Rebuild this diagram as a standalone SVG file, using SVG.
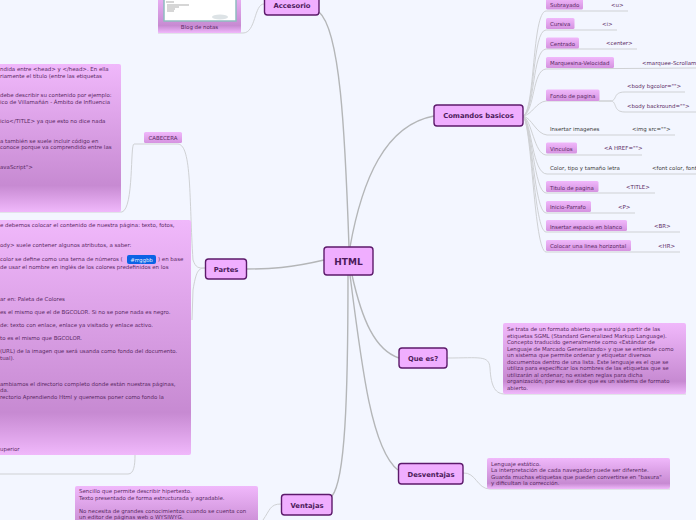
<svg xmlns="http://www.w3.org/2000/svg" width="696" height="520" viewBox="0 0 696 520">
<style>
text{font-family:"DejaVu Sans",sans-serif;font-size:5.450px;fill:#5a2a64}
.n{fill:#f0aeff;stroke:#5c1a6b;stroke-width:1.4}
.nt{font-weight:bold;font-size:6.800px;fill:#4c1a5a;text-anchor:middle}
.p{fill:url(#pill)}
.b{fill:url(#box)}
.c{fill:none;stroke:#cfd1d4;stroke-width:1}
.m{fill:none;stroke:#b4b6b8;stroke-width:1.4}
.k{fill:#3c3c3c}
</style>
<defs>
<linearGradient id="box" x1="0" y1="0" x2="0" y2="1"><stop offset="0" stop-color="#f0b8fb"/><stop offset=".82" stop-color="#c78ad2"/><stop offset="1" stop-color="#f0b8fb"/></linearGradient>
<linearGradient id="pill" x1="0" y1="0" x2="0" y2="1"><stop offset="0" stop-color="#f0b8fb"/><stop offset="1" stop-color="#d592e0"/></linearGradient>
</defs>
<rect width="696" height="520" fill="#f3f6ff"/>
<g id="connectors">
<path class="m" d="M324 260C290 268 270 269 247 269"/>
<path class="m" d="M349 247C345 130 340 30 319 12"/>
<path class="m" d="M350 247C362 180 385 125 434 116"/>
<path class="m" d="M352 275C362 320 375 350 399 358"/>
<path class="m" d="M350 275C362 370 372 450 398 470"/>
<path class="m" d="M348 275C348 400 345 480 332 496"/>
<path class="c" d="M523 116C535 112 532 12 546 11L628 11"/>
<path class="c" d="M523 116C535 112 532 30 546 30L617 30"/>
<path class="c" d="M523 116C535 112 532 50 546 49L637 49"/>
<path class="c" d="M523 116C535 112 532 70 546 69L696 68"/>
<path class="c" d="M523 116C532 115 536 102 546 101L610 101"/>
<path class="c" d="M599 101L610 101C618 101 612 92 625 92L685 92M610 101C618 101 612 112 625 112L696 112"/>
<path class="c" d="M523 116C532 118 536 134 547 135L675 135"/>
<path class="c" d="M523 116C532 120 534 154 546 155L642 155"/>
<path class="c" d="M523 116C532 122 532 174 547 174L696 174"/>
<path class="c" d="M523 116C532 125 534 192 546 193L655 193"/>
<path class="c" d="M523 116C532 125 534 212 546 213L635 213"/>
<path class="c" d="M523 116C532 125 534 231 546 232L627 232L680 232"/>
<path class="c" d="M523 116C532 125 534 251 546 252L680 252"/>
<path class="c" d="M264 4C254 4 256 33 243 33L158 33"/>
<path class="c" d="M205 268C198 268 196 268 193 260C189 200 192 145 178 144L134 144C130 144 134 208 122 212L0 212"/>
<path class="c" d="M205 268C198 268 196 272 193 290L192 320"/>
<path class="c" d="M135 455C135 465 134 474 128 474L0 474"/>
<path class="c" d="M447 358C480 358 489 355 490 368C491 388 496 394 505 394L686 394"/>
<path class="c" d="M463 473C476 472 477 489 490 489L670 489"/>
<path class="c" d="M281 504C270 504 270 510 263 520"/>
</g>
<g id="html"><rect class="n" x="324" y="247" width="49" height="28" rx="3"/><text class="nt" x="348.500" y="265" style="font-size:9px">HTML</text></g>
<g id="partes"><rect class="n" x="205.500" y="259" width="41" height="20" rx="3"/><text class="nt" x="226" y="271.500">Partes</text></g>
<g id="accesorio"><rect class="n" x="264.500" y="-6" width="54.500" height="21" rx="3"/><text class="nt" x="292" y="8">Accesorio</text></g>
<g id="comandos"><rect class="n" x="434" y="105" width="89" height="21" rx="3"/><text class="nt" x="478.500" y="118">Comandos basicos</text></g>
<g id="quees"><rect class="n" x="399" y="348" width="48" height="20" rx="3"/><text class="nt" x="423" y="360.500">Que es?</text></g>
<g id="desventajas"><rect class="n" x="398.500" y="463.500" width="64.500" height="20.500" rx="3"/><text class="nt" x="431" y="476.500">Desventajas</text></g>
<g id="ventajas"><rect class="n" x="281.500" y="494.500" width="50.500" height="20.500" rx="3"/><text class="nt" x="307" y="508">Ventajas</text></g>

<g id="blog"><rect class="b" x="158" y="-8" width="83" height="41" rx="1"/><rect x="164" y="-6" width="72" height="27" fill="#fff" stroke="#8fbcc0" stroke-width="1.500"/><path d="M166 2h8M167 5h22M167 7h12M167 9h8M167 11h7" stroke="#777" stroke-width=".6" fill="none"/><ellipse cx="220" cy="17" rx="8" ry="2.500" fill="#dde3e6"/><text x="199.500" y="29" text-anchor="middle">Blog de notas</text></g>

<g id="cabecera"><rect class="p" x="144" y="132" width="38" height="11" rx="1.500"/><text x="163" y="139.500" text-anchor="middle">CABECERA</text></g>

<g id="box1"><rect class="b" x="-6" y="64" width="127" height="148" rx="2"/>
<text x="0" y="71">ndida entre &lt;head&gt; y &lt;/head&gt;. En ella</text>
<text x="0" y="78">riamente el título (entre las etiquetas</text>
<text x="0" y="97">debe describir su contenido por ejemplo:</text>
<text x="0" y="104">ico de Villamañán - Ámbito de Influencia</text>
<text x="0" y="123">icio&lt;/TITLE&gt; ya que esto no dice nada</text>
<text x="0" y="143">a también se suele incluir código en</text>
<text x="0" y="149">conoce porque va comprendido entre las</text>
<text x="0" y="169">avaScript"&gt;</text></g>

<g id="box2"><rect class="b" x="-6" y="220" width="197" height="235" rx="2"/>
<text x="0" y="227">e debemos colocar el contenido de nuestra página: texto, fotos,</text>
<text x="0" y="247">ody&gt; suele contener algunos atributos, a saber:</text>
<text x="0" y="261">color se define como una terna de números (</text>
<rect x="127" y="255" width="29" height="9" rx="2" fill="#0b63e5"/><text x="141.500" y="261.500" text-anchor="middle" style="fill:#e8f0ff">#rrggbb</text>
<text x="158" y="261">) en base</text>
<text x="0" y="269">de usar el nombre en inglés de los colores predefinidos en los</text>
<text x="0" y="301">ar en: Paleta de Colores</text>
<text x="0" y="314">es el mismo que el de BGCOLOR. Si no se pone nada es negro.</text>
<text x="0" y="327">de: texto con enlace, enlace ya visitado y enlace activo.</text>
<text x="0" y="340">to es el mismo que BGCOLOR.</text>
<text x="0" y="353">(URL) de la imagen que será usanda como fondo del documento.</text>
<text x="0" y="360">tual).</text>
<text x="0" y="386">ambiamos el directorio completo donde están nuestras páginas,</text>
<text x="0" y="392">da.</text>
<text x="0" y="399">rectorio Aprendiendo Html y queremos poner como fondo la</text>
<text x="0" y="451">uperior</text></g>

<g id="quees-text"><rect class="b" x="503" y="323" width="183" height="71" rx="2"/>
<text x="507" y="331">Se trata de un formato abierto que surgió a partir de las</text>
<text x="507" y="338">etiquetas SGML (Standard Generalized Markup Language).</text>
<text x="507" y="344">Concepto traducido generalmente como «Estándar de</text>
<text x="507" y="351">Lenguaje de Marcado Generalizado» y que se entiende como</text>
<text x="507" y="357">un sistema que permite ordenar y etiquetar diversos</text>
<text x="507" y="364">documentos dentro de una lista. Este lenguaje es el que se</text>
<text x="507" y="370">utiliza para especificar los nombres de las etiquetas que se</text>
<text x="507" y="377">utilizarán al ordenar; no existen reglas para dicha</text>
<text x="507" y="383">organización, por eso se dice que es un sistema de formato</text>
<text x="507" y="390">abierto.</text></g>

<g id="desventajas-text"><rect class="b" x="487" y="458" width="183" height="31" rx="2"/>
<text x="491" y="466">Lenguaje estático.</text>
<text x="491" y="472">La interpretación de cada navegador puede ser diferente.</text>
<text x="491" y="479">Guarda muchas etiquetas que pueden convertirse en "basura"</text>
<text x="491" y="485">y dificultan la corrección.</text></g>

<g id="ventajas-text"><rect class="b" x="75" y="486" width="183" height="50" rx="2"/>
<text x="79" y="493">Sencillo que permite describir hipertexto.</text>
<text x="79" y="500">Texto presentado de forma estructurada y agradable.</text>
<text x="79" y="513">No necesita de grandes conocimientos cuando se cuenta con</text>
<text x="79" y="519">un editor de páginas web o WYSIWYG.</text></g>

<g id="subrayado"><rect class="p" x="546" y="-2" width="37" height="11.500" rx="1.500"/><text x="550" y="7">Subrayado</text><text x="611" y="7">&lt;u&gt;</text></g>
<g id="cursiva"><rect class="p" x="546" y="18" width="28.500" height="11" rx="1.500"/><text x="550" y="26">Cursiva</text><text x="602" y="26">&lt;i&gt;</text></g>
<g id="centrado"><rect class="p" x="546" y="37.500" width="33" height="11" rx="1.500"/><text x="550" y="45.500">Centrado</text><text x="606" y="45">&lt;center&gt;</text></g>
<g id="marquesina"><rect class="p" x="546" y="57" width="68" height="11" rx="1.500"/><text x="550" y="65">Marquesina-Velocidad</text><text x="642" y="65">&lt;marquee-Scrollam</text></g>
<g id="fondo"><rect class="p" x="546" y="89.500" width="53.500" height="11.500" rx="1.500"/><text x="550" y="98">Fondo de pagina</text><text x="627" y="88">&lt;body bgcolor=""&gt;</text><text x="627" y="108">&lt;body backround=""&gt;</text></g>
<g id="imagenes"><text class="k" x="550" y="131">Insertar imagenes</text><text class="k" x="632" y="131">&lt;img src=""&gt;</text></g>
<g id="vinculos"><rect class="p" x="546" y="142.500" width="31" height="11" rx="1.500"/><text x="550" y="150.500">Vinculos</text><text x="604" y="150">&lt;A HREF=""&gt;</text></g>
<g id="color"><text class="k" x="550" y="170">Color, tipo y tamaño letra</text><text class="k" x="652" y="170">&lt;font color, font</text></g>
<g id="titulo"><rect class="p" x="546" y="181" width="52.500" height="11" rx="1.500"/><text x="550" y="189.500">Titulo de pagina</text><text x="626" y="189">&lt;TITLE&gt;</text></g>
<g id="inicio"><rect class="p" x="546" y="201" width="45" height="11" rx="1.500"/><text x="550" y="209">Inicio-Parrafo</text><text x="618" y="209">&lt;P&gt;</text></g>
<g id="espacio"><rect class="p" x="546" y="220" width="81" height="11" rx="1.500"/><text x="550" y="229">Insertar espacio en blanco</text><text x="654" y="228">&lt;BR&gt;</text></g>
<g id="hr"><rect class="p" x="546" y="240" width="85" height="11" rx="1.500"/><text x="550" y="248">Colocar una linea horizontal</text><text x="658" y="248">&lt;HR&gt;</text></g>
</svg>
